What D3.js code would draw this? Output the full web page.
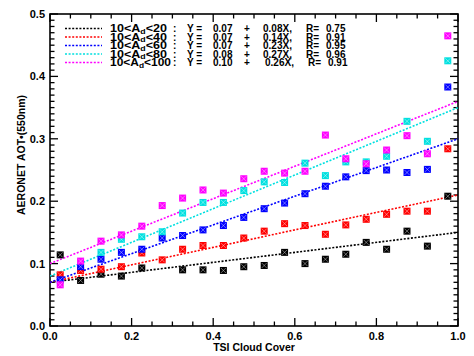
<!DOCTYPE html>
<html><head><meta charset="utf-8">
<script src="https://cdn.jsdelivr.net/npm/d3@7"></script>
<style>body{margin:0;background:#fff}svg{display:block}text{font-family:"Liberation Sans",Arial,sans-serif;font-weight:bold;fill:#000}</style>
</head><body><svg id="c" width="474" height="356"></svg>
<script>
const xBins = [0.025,0.075,0.125,0.175,0.225,0.275,0.325,0.375,0.425,0.475,0.525,0.575,0.625,0.675,0.725,0.775,0.825,0.875,0.925,0.975];
const black   = [0.114,0.073,0.083,0.080,0.093,null,0.090,0.090,0.089,0.095,0.097,0.118,0.100,0.107,0.115,0.134,0.123,0.152,0.128,0.208];
const red     = [0.082,0.089,0.091,0.095,0.117,0.106,0.123,0.129,0.129,0.141,0.152,0.164,0.161,0.147,0.162,0.171,0.179,0.184,0.184,0.284];
const blue    = [0.074,0.095,0.107,0.118,0.123,0.141,0.145,0.154,0.161,0.174,0.188,0.197,0.212,0.224,0.239,0.249,0.250,0.246,0.251,0.383];
const cyan    = [null,null,0.118,0.139,0.143,0.151,0.181,0.198,0.198,0.217,0.231,0.230,0.261,0.241,0.263,0.263,0.272,0.328,0.296,0.425];
const magenta = [0.066,0.104,0.136,0.146,0.160,0.193,0.205,0.218,0.213,0.236,0.248,0.245,0.248,0.306,0.268,0.260,0.282,0.305,0.276,0.465];
const seriesValues = [black, red, blue, cyan, magenta];
const seriesColors = ["#000000","#ff0000","#0000ff","#00e0e0","#ff00ff"];
const rangeLow  = [10,10,10,10,10];
const rangeHigh = [20,40,60,80,100];
const intercepts = ["0.07","0.07","0.07","0.08","0.10"];
const slopes     = ["0.08","0.14","0.23","0.27","0.26"];
const rValues    = ["0.75","0.91","0.95","0.96","0.91"];
const xTicks = [0.0,0.2,0.4,0.6,0.8,1.0];
const yTicks = [0.0,0.1,0.2,0.3,0.4,0.5];
const xLabel = "TSI Cloud Cover";
const yLabel = "AERONET AOT\u2022(550nm)";

const svg = d3.select("#c");
const L=50,R=458,T=14,B=326;
const x = d3.scaleLinear().domain([0,1]).range([L,R]);
const y = d3.scaleLinear().domain([0,0.5]).range([B,T]);

svg.append("rect").attr("x",L).attr("y",T).attr("width",R-L).attr("height",B-T)
  .attr("fill","none").attr("stroke","#000").attr("stroke-width",1.6);

const g = svg.append("g");
d3.range(0,51).map(i=>i/100).forEach(v=>{
  const major = Math.abs(v*10-Math.round(v*10))<1e-6;
  const len = major?8:4.5;
  g.append("line").attr("x1",L).attr("x2",L+len).attr("y1",y(v)).attr("y2",y(v)).attr("stroke","#000").attr("stroke-width",1.3);
  g.append("line").attr("x1",R).attr("x2",R-len).attr("y1",y(v)).attr("y2",y(v)).attr("stroke","#000").attr("stroke-width",1.3);
});
d3.range(0,21).map(i=>i/20).forEach(v=>{
  const major = Math.abs(v*5-Math.round(v*5))<1e-6;
  const len = major?8:4.5;
  g.append("line").attr("x1",x(v)).attr("x2",x(v)).attr("y1",B).attr("y2",B-len).attr("stroke","#000").attr("stroke-width",1.3);
  g.append("line").attr("x1",x(v)).attr("x2",x(v)).attr("y1",T).attr("y2",T+len).attr("stroke","#000").attr("stroke-width",1.3);
});
yTicks.forEach(v=>{
  svg.append("text").attr("x",45).attr("y",y(v)+4).attr("text-anchor","end").attr("font-size",11).text(v.toFixed(1));
});
xTicks.forEach(v=>{
  svg.append("text").attr("x",x(v)).attr("y",340).attr("text-anchor","middle").attr("font-size",11).text(v.toFixed(1));
});
svg.append("text").attr("x",254).attr("y",351).attr("text-anchor","middle").attr("font-size",10.5).text(xLabel);
svg.append("text").attr("transform","translate(25,155) rotate(-90)").attr("text-anchor","middle").attr("font-size",10.5).text(yLabel);

svg.append("clipPath").attr("id","pc").append("rect").attr("x",L).attr("y",T).attr("width",R-L).attr("height",B-T);
seriesValues.forEach((s,i)=>{
  const a=+intercepts[i], b=+slopes[i];
  svg.append("line").attr("clip-path","url(#pc)")
    .attr("x1",x(0)).attr("y1",y(a)).attr("x2",x(1)).attr("y2",y(a+b))
    .attr("stroke",seriesColors[i]).attr("stroke-width",1.6).attr("stroke-dasharray","2,1.6");
});
seriesValues.forEach((s,i)=>{
  s.forEach((v,j)=>{
    if(v==null) return;
    const cx=x(xBins[j]), cy=y(v), h=3.5;
    svg.append("rect").attr("x",cx-h).attr("y",cy-h).attr("width",2*h).attr("height",2*h).attr("fill",seriesColors[i]);
    svg.append("path").attr("d",`M${cx-h+1},${cy-h+1}L${cx+h-1},${cy+h-1}M${cx+h-1},${cy-h+1}L${cx-h+1},${cy+h-1}`)
      .attr("stroke","#fff").attr("stroke-opacity",0.45).attr("stroke-width",0.9);
  });
});
const rowY = i => 28.5 + i*8.5;
const fs = 10;
seriesValues.forEach((s,i)=>{
  const yy=rowY(i);
  svg.append("line").attr("x1",65).attr("x2",102).attr("y1",yy).attr("y2",yy)
    .attr("stroke",seriesColors[i]).attr("stroke-width",1.6).attr("stroke-dasharray","2,1.6");
  const t = svg.append("text").attr("x",110).attr("y",yy+3.6).attr("font-size",fs).attr("textLength",i===4?61:57).attr("lengthAdjust","spacingAndGlyphs");
  t.append("tspan").text(rangeLow[i]+"<A");
  t.append("tspan").attr("font-size",7).attr("dy",1.5).text("d");
  t.append("tspan").attr("dy",-1.5).text("<"+rangeHigh[i]);
  const parts=[[173,":"],[187,"Y ="],[213,intercepts[i]],[244,"+"],[263,slopes[i]+"X,"],[306,"R="],[326,rValues[i]]];
  parts.forEach(p=>svg.append("text").attr("x",p[0]+(i===4&&p[0]>=263?2:0)).attr("y",yy+3.6).attr("font-size",fs).text(p[1]));
});
</script></body></html>
